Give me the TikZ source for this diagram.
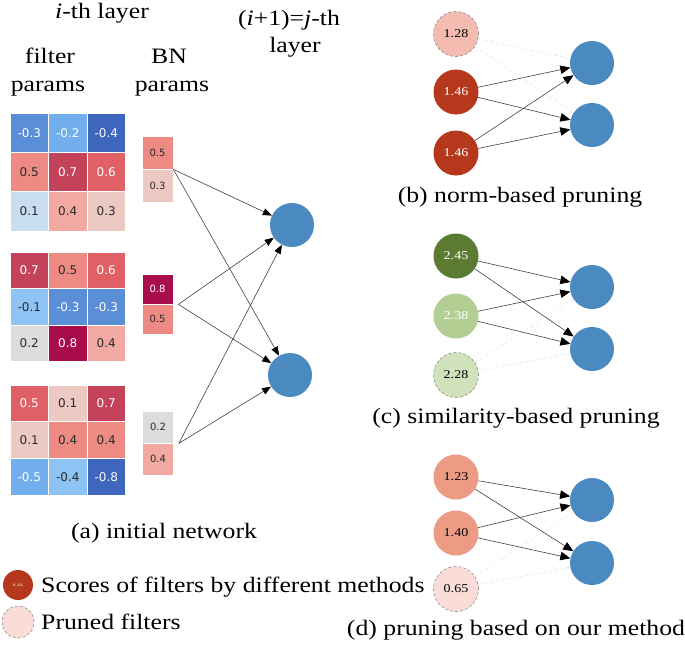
\documentclass[tikz,border=0pt]{standalone}
\usepackage{fontspec}
\setmainfont{Liberation Serif}[FakeStretch=1.17]
\newfontfamily\cellfont{DejaVu Sans}
\usetikzlibrary{arrows.meta}

% heat map colours
\definecolor{hmdeep}{HTML}{A80C4C}
\definecolor{hmred}{HTML}{C4425A}
\definecolor{hmmid}{HTML}{E06066}
\definecolor{hmsalmon}{HTML}{EE8A84}
\definecolor{hmpink}{HTML}{F2A9A2}
\definecolor{hmpale}{HTML}{EDC9C3}
\definecolor{hmgray}{HTML}{DCDCDC}
\definecolor{hmice}{HTML}{C8DDF0}
\definecolor{hmsky}{HTML}{8EC4F5}
\definecolor{hmlight}{HTML}{72AEEB}
\definecolor{hmblue}{HTML}{5A8ED6}
\definecolor{hmnavy}{HTML}{3E66BC}
\definecolor{hmtext}{HTML}{2A2A2A}
% neuron colours
\definecolor{nblue}{HTML}{4A8AC0}
\definecolor{scorered}{HTML}{B5381C}
\definecolor{prunedred}{HTML}{F4BBB0}
\definecolor{darkgreen}{HTML}{5B7A32}
\definecolor{midgreen}{HTML}{B3CE93}
\definecolor{palegreen}{HTML}{D0E2BA}
\definecolor{salmon}{HTML}{EC9B84}
\definecolor{palesalmon}{HTML}{FADDD6}
\definecolor{cutblue}{HTML}{DCE4F2}
\definecolor{cutgray}{HTML}{E4E4E4}

\begin{document}
\begin{tikzpicture}[x=1pt,y=-1pt,
	cellbox/.style={draw=white, line width=0.7pt, minimum width=38.5pt, inner sep=0pt, font=\cellfont\fontsize{12}{12}\selectfont},
	bnbox/.style={draw=white, line width=0.7pt, minimum width=31pt, inner sep=0pt, font=\cellfont\fontsize{10}{10}\selectfont},
	neuron/.style={circle, fill=nblue, minimum size=44pt, inner sep=0pt},
	score/.style={circle, minimum size=45pt, inner sep=0pt, font=\fontsize{12}{12}\selectfont},
	pruned/.style={score, draw=gray, densely dashed, line width=0.5pt},
	link/.style={draw=black!75, line width=0.6pt, -{Triangle[length=9pt,width=7pt,color=black]}},
	biglink/.style={link, -{Triangle[length=10pt,width=8.5pt,color=black]}},
	cutlink/.style={draw=#1, dashed, line width=0.6pt},
	headtext/.style={font=\fontsize{22}{22}\selectfont, inner sep=0pt}
]

\useasboundingbox (0,0) rectangle (685,646);

\def\gx{10}
\def\cw{38.5}

% titles
\node[headtext, anchor=base] (ilayer) at (102,18) {\textit{i}-th layer};
\node[headtext, anchor=base] (jlayer) at (289,25) {(\textit{i}+1)=\textit{j}-th};
\node[headtext, anchor=base] (jlayer2) at (295,52) {layer};
\node[headtext, anchor=base] (filt1) at (50,63) {filter};
\node[headtext, anchor=base] (filt2) at (48,91) {params};
\node[headtext, anchor=base] (bn1t) at (169,63) {BN};
\node[headtext, anchor=base] (bn2t) at (172,91) {params};

% filter params of the i-th layer
\def\gy{113}
\def\ch{39.3}
\foreach \r/\c/\v/\f/\t in {1/1/-0.3/hmblue/white, 1/2/-0.2/hmlight/white, 1/3/-0.4/hmnavy/white,
	2/1/0.5/hmsalmon/hmtext, 2/2/0.7/hmred/white, 2/3/0.6/hmmid/white,
	3/1/0.1/hmice/hmtext, 3/2/0.4/hmpink/hmtext, 3/3/0.3/hmpale/hmtext} {
	\node[cellbox, fill=\f, text=\t, minimum height=\ch pt] (fa-\r-\c) at ({\gx+(\c-0.5)*\cw},{\gy+(\r-0.5)*\ch}) {\v};
}
\def\gy{252}
\def\ch{36.5}
\foreach \r/\c/\v/\f/\t in {1/1/0.7/hmred/white, 1/2/0.5/hmsalmon/hmtext, 1/3/0.6/hmmid/white,
	2/1/-0.1/hmsky/hmtext, 2/2/-0.3/hmblue/white, 2/3/-0.3/hmblue/white,
	3/1/0.2/hmgray/hmtext, 3/2/0.8/hmdeep/white, 3/3/0.4/hmpink/hmtext} {
	\node[cellbox, fill=\f, text=\t, minimum height=\ch pt] (fb-\r-\c) at ({\gx+(\c-0.5)*\cw},{\gy+(\r-0.5)*\ch}) {\v};
}
\def\gy{385}
\def\ch{36.7}
\foreach \r/\c/\v/\f/\t in {1/1/0.5/hmmid/white, 1/2/0.1/hmpale/hmtext, 1/3/0.7/hmred/white,
	2/1/0.1/hmpale/hmtext, 2/2/0.4/hmsalmon/hmtext, 2/3/0.4/hmsalmon/hmtext,
	3/1/-0.5/hmlight/white, 3/2/-0.4/hmsky/hmtext, 3/3/-0.8/hmnavy/white} {
	\node[cellbox, fill=\f, text=\t, minimum height=\ch pt] (fc-\r-\c) at ({\gx+(\c-0.5)*\cw},{\gy+(\r-0.5)*\ch}) {\v};
}

% BN params
\node[bnbox, fill=hmsalmon, text=hmtext, minimum height=33pt] (bna1) at (157.5,152.5) {0.5};
\node[bnbox, fill=hmpale, text=hmtext, minimum height=33pt] (bna2) at (157.5,185.5) {0.3};
\node[bnbox, fill=hmdeep, text=white, minimum height=30pt] (bnb1) at (157.5,289) {0.8};
\node[bnbox, fill=hmsalmon, text=hmtext, minimum height=30pt] (bnb2) at (157.5,319) {0.5};
\node[bnbox, fill=hmgray, text=hmtext, minimum height=32pt] (bnc1) at (158,427) {0.2};
\node[bnbox, fill=hmpink, text=hmtext, minimum height=32pt] (bnc2) at (158,459) {0.4};

\coordinate (bn1) at (bna1.south east);
\coordinate (bn2) at ([xshift=5pt]bnb1.south east);
\coordinate (bn3) at ([xshift=5pt]bnc1.south east);

% (i+1)-th layer
\node[neuron] (out1) at (292,225) {};
\node[neuron] (out2) at (290,375) {};
\foreach \s in {bn1,bn2,bn3} {
	\draw[link] (\s) -- (out1);
	\draw[link] (\s) -- (out2);
}
\node[headtext] (capa) at (164,533) {(a) initial network};

% (b) norm-based
\node[pruned, fill=prunedred] (b1) at (456,34) {1.28};
\node[score, fill=scorered, text=white] (b2) at (456,92) {1.46};
\node[score, fill=scorered, text=white] (b3) at (456,153) {1.46};
\node[neuron] (bo1) at (592,63) {};
\node[neuron] (bo2) at (592,125) {};
\foreach \o in {bo1,bo2} {
	\draw[cutlink=cutblue] (b1) -- (\o);
	\draw[biglink] (b2) -- (\o);
	\draw[biglink] (b3) -- (\o);
}
\node[headtext] (capb) at (520,197) {(b) norm-based pruning};

% (c) similarity-based
\node[score, fill=darkgreen, text=white] (c1) at (456,256) {2.45};
\node[score, fill=midgreen, text=white] (c2) at (456,316) {2.38};
\node[pruned, fill=palegreen] (c3) at (456,375) {2.28};
\node[neuron] (co1) at (592,287) {};
\node[neuron] (co2) at (592,349) {};
\foreach \o in {co1,co2} {
	\draw[cutlink=cutblue] (c3) -- (\o);
	\draw[biglink] (c1) -- (\o);
	\draw[biglink] (c2) -- (\o);
}
\node[headtext] (capc) at (516,418) {(c) similarity-based pruning};

% (d) our method
\node[score, fill=salmon] (d1) at (456,477) {1.23};
\node[score, fill=salmon] (d2) at (456,533) {1.40};
\node[pruned, fill=palesalmon] (d3) at (456,589) {0.65};
\node[neuron] (do1) at (592,500) {};
\node[neuron] (do2) at (592,563) {};
\foreach \o in {do1,do2} {
	\draw[cutlink=cutgray] (d3) -- (\o);
	\draw[biglink] (d1) -- (\o);
	\draw[biglink] (d2) -- (\o);
}
\node[headtext] (capd) at (516,630) {(d) pruning based on our method};

% legend
\node[score, fill=scorered, text=white, minimum size=30pt, font=\fontsize{5}{5}\selectfont] (keyscore) at (18,585) {x.xx};
\node[pruned, fill=palesalmon, minimum size=32pt] (keypruned) at (18,622) {};
\node[headtext, anchor=west] (keyscoretext) at (41,587) {Scores of filters by different methods};
\node[headtext, anchor=west] (keyprunedtext) at (41,622) {Pruned filters};

\end{tikzpicture}
\end{document}
